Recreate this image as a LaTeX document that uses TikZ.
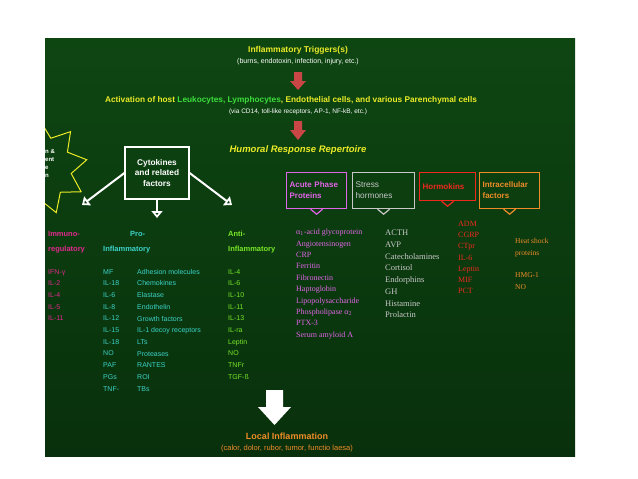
\documentclass[tikz,border=0pt]{standalone}
\usepackage{fontspec}
\setmainfont{Liberation Sans}
\newfontfamily\serifl{Liberation Serif}
\usetikzlibrary{shapes.geometric,shapes.arrows,arrows.meta}
\definecolor{bg}{RGB}{8,48,12}
\definecolor{ylw}{RGB}{235,235,40}
\definecolor{grn}{RGB}{60,220,60}
\definecolor{mag}{RGB}{225,40,140}
\definecolor{cyn}{RGB}{60,210,200}
\definecolor{agrn}{RGB}{120,230,40}
\definecolor{pnk}{RGB}{225,100,230}
\definecolor{gry}{RGB}{200,200,200}
\definecolor{rd}{RGB}{240,40,30}
\definecolor{org}{RGB}{240,140,40}
\definecolor{arr}{RGB}{200,70,70}
\tikzset{
 x=1pt,y=-1pt,
 txt/.style={inner sep=0pt,font=\fontsize{8.5}{9}\selectfont\bfseries},
 lst/.style={inner sep=0pt,anchor=west,font=\fontsize{7}{11.7}\selectfont,align=left},
 cbox/.style={draw,line width=1.2pt,inner sep=3pt,anchor=north west,align=left,font=\fontsize{8}{11}\selectfont\bfseries},
 warr/.style={white,line width=2pt,-{Triangle[open,length=7pt,width=11pt]}}
}
\begin{document}
\begin{tikzpicture}
\useasboundingbox (0,0) rectangle (638,479);
\fill[white] (0,0) rectangle (638,479);
\begin{scope}
\clip (45,38) rectangle (575,456);
\shade[top color={rgb,255:red,14;green,70;blue,18},bottom color=bg] (45,38) rectangle (575,456);
\node[star,star points=9,star point ratio=1.5,draw=ylw,line width=1pt,minimum size=95pt,inner sep=0pt] (star) at (40,168) {};
\node[txt,white,font=\fontsize{6}{8}\selectfont\bfseries,align=left,anchor=west] (startx) at (45,163) {n \&\\ent\\e\\n};
\end{scope}
\node[txt,ylw] (t1) at (298,50) {Inflammatory Triggers(s)};
\node[txt,white,font=\fontsize{7}{8}\selectfont] (t2) at (298,62) {(burns, endotoxin, infection, injury, etc.)};
\fill[arr] (294,72) -- (302,72) -- (302,81) -- (306,81) -- (298,90) -- (290,81) -- (294,81) -- cycle;
\node[txt,ylw,font=\fontsize{8.3}{9}\selectfont\bfseries] (t3) at (291,100) {Activation of host \textcolor{grn}{Leukocytes, Lymphocytes}, Endothelial cells, and various Parenchymal cells};
\node[txt,white,font=\fontsize{6.5}{7}\selectfont] (t4) at (298,112) {(via CD14, toll-like receptors, AP-1, NF-kB, etc.)};
\fill[arr] (294,121) -- (302,121) -- (302,130) -- (306,130) -- (298,140) -- (290,130) -- (294,130) -- cycle;
\node[txt,ylw,font=\fontsize{9.5}{10}\selectfont\bfseries\itshape] (t5) at (298,150) {Humoral Response Repertoire};
\node[draw=white,line width=1.2pt,white,minimum width=64pt,minimum height=52pt,align=center,font=\fontsize{8.3}{10.5}\selectfont\bfseries] (cyt) at (157,173) {Cytokines\\and related\\factors};
\coordinate (cl) at (82,205);
\coordinate (cr) at (232,205);
\coordinate (cd) at (157,218);
\draw[warr] (cyt.west) -- (cl);
\draw[warr] (cyt.east) -- (cr);
\draw[warr] (cyt.south) -- (cd);
% category boxes
\node[cbox,pnk,text width=54pt,minimum height=36pt] (acute) at (286,172) {Acute Phase\\Proteins};
\node[cbox,gry,text width=56pt,minimum height=36pt,font=\fontsize{8.3}{11}\selectfont] (stress) at (352,172) {Stress\\hormones};
\node[cbox,rd,text width=50pt,minimum height=28pt] (hormo) at (419,172) {Hormokins};
\node[cbox,org,text width=54pt,minimum height=36pt] (intra) at (479,172) {Intracellular\\factors};
\foreach \b/\c in {acute/pnk,stress/gry,hormo/rd,intra/org}{
 \draw[\c,line width=1.2pt] ([xshift=-6pt]\b.south) -- ([yshift=-5pt]\b.south) -- ([xshift=6pt]\b.south);
}
% headers
\node[lst,mag,font=\fontsize{7.5}{15}\selectfont\bfseries] (h1) at (48,242) {Immuno-\\regulatory};
\node[lst,cyn,font=\fontsize{7.5}{15}\selectfont\bfseries] (h2) at (103,242) {\hspace*{27pt}Pro-\\Inflammatory};
\node[lst,agrn,font=\fontsize{7.5}{15}\selectfont\bfseries] (h3) at (228,242) {Anti-\\Inflammatory};
% lists
\node[lst,mag,anchor=north west] (l1) at (48,269) {IFN-γ\\IL-2\\IL-4\\IL-5\\IL-11};
\node[lst,cyn,anchor=north west] (l2) at (103,269) {MF\\IL-18\\IL-6\\IL-8\\IL-12\\IL-15\\IL-18\\NO\\PAF\\PGs\\TNF-};
\node[lst,cyn,anchor=north west] (l3) at (137,269) {Adhesion molecules\\Chemokines\\Elastase\\Endothelin\\Growth factors\\IL-1 decoy receptors\\LTs\\Proteases\\RANTES\\ROI\\TBs};
\node[lst,agrn,anchor=north west] (l4) at (228,269) {IL-4\\IL-6\\IL-10\\IL-11\\IL-13\\IL-ra\\Leptin\\NO\\TNFr\\TGF-ß};
\node[lst,pnk,anchor=north west,font=\serifl\fontsize{8}{11.4}\selectfont] (l5) at (296,229) {α\textsubscript{1}-acid glycoprotein\\Angiotensinogen\\CRP\\Ferritin\\Fibronectin\\Haptoglobin\\Lipopolysaccharide\\Phospholipase α\textsubscript{2}\\PTX-3\\Serum amyloid A};
\node[lst,gry,anchor=north west,font=\serifl\fontsize{8.5}{11.7}\selectfont] (l6) at (385,230) {ACTH\\AVP\\Catecholamines\\Cortisol\\Endorphins\\GH\\Histamine\\Prolactin};
\node[lst,rd,anchor=north west,font=\serifl\fontsize{8}{11.2}\selectfont] (l7) at (458,221) {ADM\\CGRP\\CTpr\\IL-6\\Leptin\\MIF\\PCT};
\node[lst,org,anchor=north west,font=\serifl\fontsize{7.5}{11.7}\selectfont] (l8) at (515,238) {Heat shock\\proteins\\[11pt]HMG-1\\NO};
% bottom
\fill[white] (266,390) -- (283,390) -- (283,407) -- (291,407) -- (274.5,425) -- (258,407) -- (266,407) -- cycle;
\node[txt,org,font=\fontsize{9}{10}\selectfont\bfseries] (li) at (287,436) {Local Inflammation};
\node[txt,org,font=\fontsize{7.5}{8}\selectfont] (li2) at (287,449) {(calor, dolor, rubor, tumor, functio laesa)};
\end{tikzpicture}
\end{document}
